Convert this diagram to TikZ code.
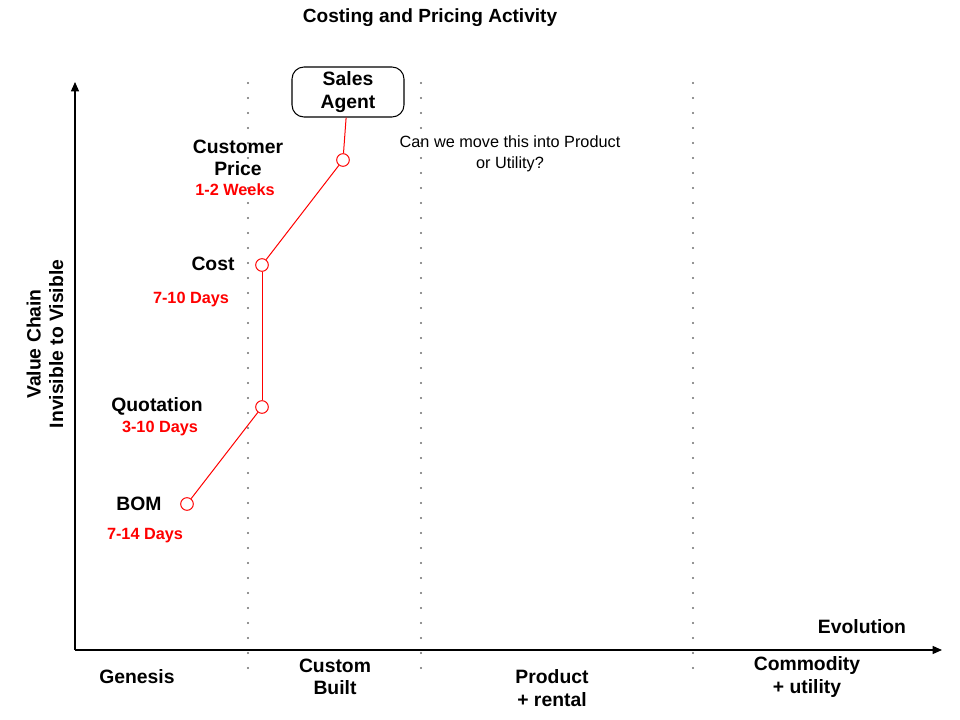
\documentclass[tikz,border=0pt]{standalone}
\usepackage{fontspec}
\setmainfont{Liberation Sans}
\usetikzlibrary{arrows.meta}
\definecolor{dotgray}{RGB}{110,110,110}
\begin{document}
\begin{tikzpicture}[x=0.75pt,y=-0.75pt,
  lbl/.style={font=\fontsize{14.5}{17}\selectfont\bfseries, align=center, inner sep=0pt},
  redlbl/.style={font=\fontsize{12.2}{14}\selectfont\bfseries, text=red, inner sep=0pt},
  note/.style={font=\fontsize{12.2}{15.5}\selectfont, align=center, inner sep=0pt},
  pt/.style={circle, draw=red, line width=0.75pt, minimum size=9.5pt, inner sep=0pt},
  link/.style={draw=red, line width=0.75pt},
  axis/.style={draw=black, line width=0.9pt, -{Triangle[length=7pt,width=6pt]}},
  grid/.style={draw=dotgray, line width=1.8pt, line cap=round, dash pattern=on 0pt off 11.25pt},
  agentbox/.style={draw=black, line width=0.8pt, rounded corners=9pt, minimum width=84pt, minimum height=37.5pt, align=center, font=\fontsize{14.5}{17}\selectfont\bfseries, inner sep=0pt}
]
\useasboundingbox (0,0) rectangle (960,720);

% dotted phase separators
\foreach \n/\x in {a/248,b/421,c/693}{
  \coordinate (top\n) at (\x,83);
  \coordinate (bot\n) at (\x,672);
  \path[grid] (top\n) -- (bot\n);
}

% axes
\coordinate (origin) at (75,650);
\coordinate (ytip) at (75,82);
\coordinate (xtip) at (942,650);
\draw[axis] (origin) -- (ytip);
\draw[axis] (origin) -- (xtip);

% title
\node[font=\fontsize{14.3}{17}\selectfont\bfseries, inner sep=0pt] (title) at (430,18) {Costing and Pricing Activity};

% y label
\node[lbl, rotate=90] (ylab) at (45,344) {Value Chain\\Invisible to Visible};

% x labels
\node[lbl] (evo) at (862,627) {Evolution};
\node[lbl] (gen) at (137,677) {Genesis};
\node[lbl] (cust) at (335,677) {Custom\\Built};
\node[lbl] (prod) at (552,688) {Product\\+ rental};
\node[lbl] (comm) at (807,677) {Commodity\\+ utility};

% sales agent
\node[agentbox] (agent) at (348,92) {Sales\\Agent};

% points
\node[pt] (c1) at (343,160) {};
\node[pt] (c2) at (262,265) {};
\node[pt] (c3) at (262,407) {};
\node[pt] (c4) at (187,504) {};

\draw[link] (agent) -- (c1);
\draw[link] (c1) -- (c2);
\draw[link] (c2) -- (c3);
\draw[link] (c3) -- (c4);

% labels
\node[lbl] (cp) at (238,158) {Customer\\Price};
\node[redlbl] (cpd) at (235,190) {1-2 Weeks};
\node[lbl] (cost) at (213,264) {Cost};
\node[redlbl] (costd) at (191,300) {7-10 Days};
\node[lbl] (quo) at (157,406) {Quotation};
\node[redlbl] (quod) at (160,429) {3-10 Days};
\node[lbl] (bom) at (139,504) {BOM};
\node[redlbl] (bomd) at (145,536) {7-14 Days};

\node[note] (q) at (510,154) {Can we move this into Product\\or Utility?};
\end{tikzpicture}
\end{document}
